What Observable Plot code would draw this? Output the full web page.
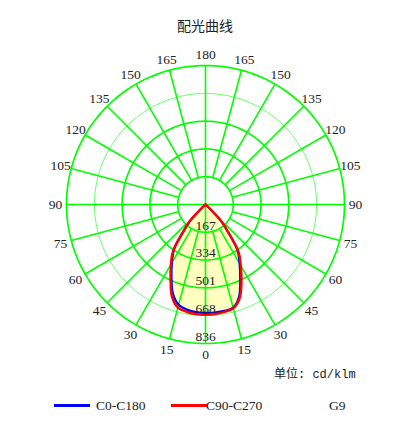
<!DOCTYPE html>
<html>
<head>
<meta charset="utf-8">
<script src="https://cdn.jsdelivr.net/npm/d3@7"></script>
<script src="https://cdn.jsdelivr.net/npm/@observablehq/plot@0.6"></script>
<style>
  html, body { margin: 0; padding: 0; background: #fff; }
  body { position: relative; width: 393px; height: 439px; overflow: hidden; }
  #title { position: absolute; left: 0; width: 410px; top: 14px; text-align: center;
    font-family: "Noto Sans CJK SC", sans-serif; font-size: 14px; color: #222; line-height: 22px; }
  #chart { position: absolute; left: 0; top: 40px; }
  #unit { position: absolute; left: 274px; top: 366px; font-family: "Liberation Mono", "Noto Sans CJK SC", monospace;
    font-size: 12px; color: #222; line-height: 18px; white-space: pre; }
  .leg { position: absolute; font-family: "Liberation Serif", serif; font-size: 13.5px; color: #222; line-height: 16px; white-space: pre; }
  .sw { position: absolute; height: 3px; }
</style>
</head>
<body>
<div id="title">配光曲线</div>
<div id="chart"></div>
<div id="unit">单位: cd/klm</div>
<div class="sw" style="left:54px; top:404px; width:36px; background:#0000ff;"></div>
<div class="leg" style="left:96px; top:398px;">C0-C180</div>
<div class="sw" style="left:171px; top:404px; width:36px; background:#ff0000;"></div>
<div class="leg" style="left:206px; top:398px;">C90-C270</div>
<div class="leg" style="left:329px; top:398px;">G9</div>
<script>
// ---- data ----
const gammaAngles = [0, 5, 10, 15, 20, 25, 30, 35, 40, 42, 44, 45, 47, 50, 55, 60];
const c0Values   = [652, 652, 650, 642, 590, 494, 410, 335, 196, 163, 118, 68, 18, 5, 0, 0];
const c180Values = [652, 650, 642, 624, 572, 484, 404, 330, 192, 160, 116, 66, 18, 5, 0, 0];
const c90Values  = [664, 662, 656, 646, 600, 512, 424, 346, 203, 168, 122, 72, 22, 6, 0, 0];
const c270Values = [664, 662, 655, 642, 590, 497, 416, 340, 198, 165, 120, 70, 20, 5, 0, 0];
const ringValues = [167, 334, 501, 668, 836];
const ringLabels = ["167", "334", "501", "668", "836"];
const thinRing = 668;
const angleTicks = [0, 15, 30, 45, 60, 75, 90, 105, 120, 135, 150, 165, 180];
const seriesNames = ["C0-C180", "C90-C270"];

const RMAX = 836;
const rad = d => d * Math.PI / 180;
// gamma measured from nadir (down), side: +1 right, -1 left
const toXY = (v, g, side) => ({x: side * v * Math.sin(rad(g)), y: -v * Math.cos(rad(g))});

function curve(leftVals, rightVals, name) {
  const pts = [];
  for (let i = gammaAngles.length - 1; i >= 0; i--) pts.push({...toXY(leftVals[i], gammaAngles[i], -1), name});
  for (let i = 1; i < gammaAngles.length; i++) pts.push({...toXY(rightVals[i], gammaAngles[i], 1), name});
  return pts;
}
const blue = curve(c180Values, c0Values, seriesNames[0]);
const red = curve(c270Values, c90Values, seriesNames[1]);

// rings
const rings = [];
for (const v of ringValues) for (const a of d3.range(0, 361, 2)) rings.push({ring: v, x: v * Math.sin(rad(a)), y: v * Math.cos(rad(a))});
const thickRings = rings.filter(d => d.ring !== thinRing);
const thinRings = rings.filter(d => d.ring === thinRing);

// spokes
const spokes = [];
for (const a of angleTicks) {
  if (a === 0 || a === 90 || a === 180) continue;
  for (const s of [-1, 1]) {
    const p1 = toXY(ringValues[0], a, s), p2 = toXY(RMAX, a, s);
    spokes.push({x1: p1.x, y1: p1.y, x2: p2.x, y2: p2.y});
  }
}
spokes.push({x1: -RMAX, y1: 0, x2: RMAX, y2: 0});
spokes.push({x1: 0, y1: -RMAX, x2: 0, y2: RMAX});

// angle labels
const LR = RMAX * 150 / 139;
const angleLabels = [];
for (const a of angleTicks) {
  const sides = (a === 0 || a === 180) ? [1] : [-1, 1];
  for (const s of sides) angleLabels.push({...toXY(LR, a, s), t: String(a)});
}
const ringText = ringValues.map((v, i) => ({x: 0, y: -v, t: ringLabels[i]}));

const green = "#00ff00";
const plot = Plot.plot({
  width: 393, height: 340,
  marginLeft: 66, marginRight: 49, marginTop: 25, marginBottom: 37,
  x: {domain: [-RMAX, RMAX], axis: null},
  y: {domain: [-RMAX, RMAX], axis: null},
  style: {fontFamily: "'Liberation Serif', serif", fontSize: "13.5px", color: "#222", background: "transparent", overflow: "visible"},
  marks: [
    Plot.line(red, {x: "x", y: "y", fill: "#ffffc0", stroke: "none", curve: "catmull-rom"}),
    Plot.line(thickRings, {x: "x", y: "y", z: "ring", stroke: green, strokeWidth: 1.7}),
    Plot.line(thinRings, {x: "x", y: "y", z: "ring", stroke: "#44ff44", strokeWidth: 0.8}),
    Plot.link(spokes, {x1: "x1", y1: "y1", x2: "x2", y2: "y2", stroke: green, strokeWidth: 1.6}),
    Plot.line(blue, {x: "x", y: "y", stroke: "#0000ff", strokeWidth: 2.2, curve: "catmull-rom"}),
    Plot.line(red, {x: "x", y: "y", stroke: "#ff0000", strokeWidth: 2.4, curve: "catmull-rom"}),
    Plot.text(ringText, {x: "x", y: "y", text: "t", dy: -7, fill: "#222", fontSize: 13.5}),
    Plot.text(angleLabels, {x: "x", y: "y", text: "t", fill: "#222", fontSize: 13.5})
  ]
});
document.getElementById("chart").appendChild(plot);
</script>
</body>
</html>
